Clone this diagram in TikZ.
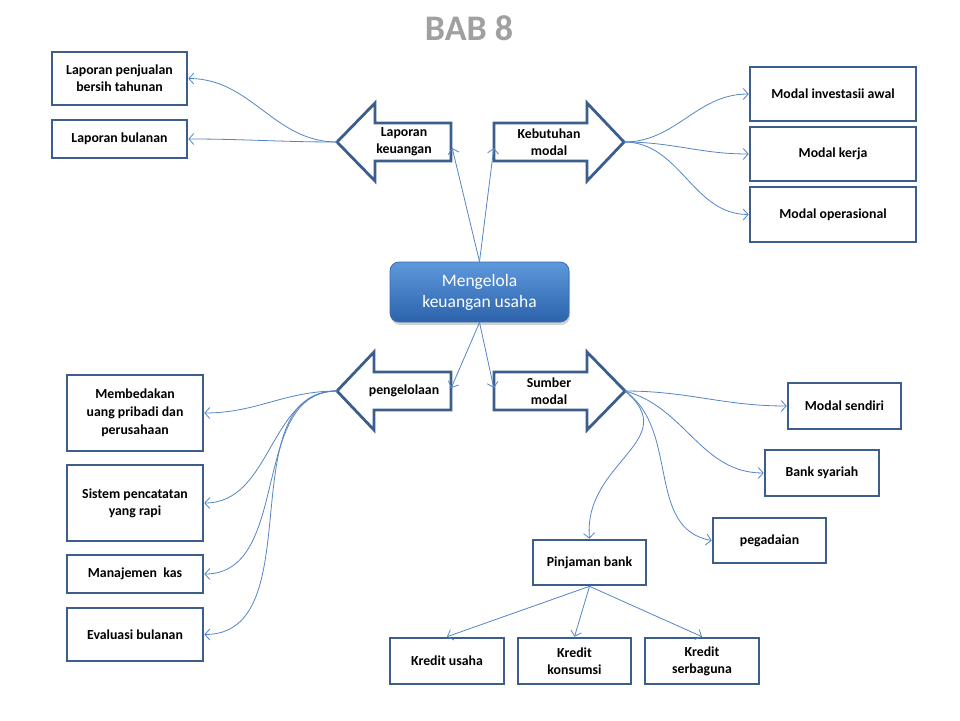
\documentclass[tikz,border=0pt]{standalone}
\usepackage{fontspec}
\setmainfont{Carlito}
\usetikzlibrary{arrows.meta,shadows,calc}
\definecolor{boxline}{HTML}{3B5E8C}
\definecolor{conn}{HTML}{5585C5}
\definecolor{ctrtop}{HTML}{5E98DC}
\definecolor{ctrbot}{HTML}{2C63AB}
\definecolor{ctrline}{HTML}{3A6DB0}
\definecolor{titlegray}{HTML}{A0A0A0}
\begin{document}
\begin{tikzpicture}[x=1pt,y=1pt,
  leaf/.style={draw=boxline,line width=2.6pt,fill=white,
    font=\bfseries\fontsize{13.8}{17}\selectfont,align=center,inner sep=0pt},
  arrowshape/.style={draw=boxline,line width=2.8pt,fill=white,line join=miter},
  arrowtext/.style={font=\bfseries\fontsize{13.8}{17}\selectfont,align=center,inner sep=0pt},
  ln/.style={draw=conn,line width=0.8pt,-{Straight Barb[length=5pt,width=11pt,line width=0.8pt]}}]
\useasboundingbox (0,0) rectangle (960,-720);
\fill[white] (0,0) rectangle (960,-720);

% title
\node[font=\bfseries\fontsize{36}{36}\selectfont,text=titlegray,inner sep=0pt] (title) at (469,-28) {BAB 8};

% block arrows
\draw[arrowshape] (451,-123) -- (375,-123) -- (375,-103) -- (337,-142) -- (375,-181) -- (375,-161) -- (451,-161) -- cycle;
\draw[arrowshape] (494,-123) -- (587,-123) -- (587,-103) -- (624,-142) -- (587,-181) -- (587,-161) -- (494,-161) -- cycle;
\draw[arrowshape] (451,-372) -- (374,-372) -- (374,-352) -- (337,-391) -- (374,-430) -- (374,-410) -- (451,-410) -- cycle;
\draw[arrowshape] (494,-372) -- (587,-372) -- (587,-352) -- (625,-391) -- (587,-430) -- (587,-410) -- (494,-410) -- cycle;

\node[arrowtext,minimum width=94pt,minimum height=38pt] (lk) at (404,-142) {Laporan\\keuangan};
\node[arrowtext,minimum width=110pt,minimum height=38pt] (km) at (549,-142) {Kebutuhan\\modal};
\node[arrowtext,minimum width=94pt,minimum height=38pt] (pe) at (404,-391) {pengelolaan};
\node[arrowtext,minimum width=110pt,minimum height=38pt] (sm) at (549,-391) {Sumber\\modal};

\coordinate (lkT) at (337,-142);
\coordinate (kmT) at (624,-142);
\coordinate (peT) at (337,-391);
\coordinate (smT) at (625,-391);

% centre
\node[draw=ctrline,line width=0.8pt,rounded corners=9pt,top color=ctrtop,bottom color=ctrbot,
  minimum width=179pt,minimum height=60pt,align=center,text=white,
  font=\fontsize{17.5}{21}\selectfont,
  drop shadow={opacity=0.35,shadow xshift=1pt,shadow yshift=-3pt}] (ctr) at (479.5,-292) {Mengelola\\keuangan usaha};

% leaves
\node[leaf,minimum width=135pt,minimum height=53pt] (lp) at (119.5,-78.5) {Laporan penjualan\\bersih tahunan};
\node[leaf,minimum width=135pt,minimum height=38pt] (lb) at (119.5,-139) {Laporan bulanan};
\node[leaf,minimum width=166pt,minimum height=54pt] (mi) at (833,-94) {Modal investasii awal};
\node[leaf,minimum width=166pt,minimum height=54pt] (mk) at (833,-154) {Modal kerja};
\node[leaf,minimum width=166pt,minimum height=55pt] (mo) at (833,-214.5) {Modal operasional};
\node[leaf,minimum width=136pt,minimum height=76pt,font=\bfseries\fontsize{13.8}{18}\selectfont] (mb) at (135,-413) {Membedakan\\uang pribadi dan\\perusahaan};
\node[leaf,minimum width=136pt,minimum height=76pt] (sp) at (135,-503) {Sistem pencatatan\\yang rapi};
\node[leaf,minimum width=136pt,minimum height=38pt] (mj) at (135,-574) {Manajemen~ kas};
\node[leaf,minimum width=136pt,minimum height=53pt] (eb) at (135,-634.5) {Evaluasi bulanan};
\node[leaf,minimum width=113pt,minimum height=46pt] (ms) at (844.5,-406) {Modal sendiri};
\node[leaf,minimum width=114pt,minimum height=46pt] (bs) at (822,-473) {Bank syariah};
\node[leaf,minimum width=113pt,minimum height=45pt] (pg) at (769.5,-540.5) {pegadaian};
\node[leaf,minimum width=113pt,minimum height=45pt] (pb) at (589.5,-562.5) {Pinjaman bank};
\node[leaf,minimum width=114pt,minimum height=46pt] (ku) at (447,-661) {Kredit usaha};
\node[leaf,minimum width=113pt,minimum height=46pt] (kk) at (574.5,-661) {Kredit\\konsumsi};
\node[leaf,minimum width=114pt,minimum height=46pt] (ks) at (702,-661) {Kredit\\serbaguna};

% connectors from centre
\draw[ln] (ctr.north) -- ($(lk.east)+(1,-6)$);
\draw[ln] (ctr.north) -- ($(km.west)+(0,-6)$);
\draw[ln] (ctr.south) -- ($(pe.east)+(0,3)$);
\draw[ln] (ctr.south) -- ($(sm.west)+(0,3)$);

% Laporan keuangan
\draw[ln] (lkT) to[out=180,in=0] (lp.east);
\draw[ln] (lkT) to[out=180,in=0] (lb.east);
% Kebutuhan modal
\draw[ln] (kmT) to[out=0,in=180] (mi.west);
\draw[ln] (kmT) to[out=0,in=180] (mk.west);
\draw[ln] (kmT) to[out=0,in=180] (mo.west);
% pengelolaan
\draw[ln] (peT) to[out=180,in=0] (mb.east);
\draw[ln] (peT) to[out=180,in=0] (sp.east);
\draw[ln] (peT) to[out=180,in=0] (mj.east);
\draw[ln] (peT) to[out=180,in=0] (eb.east);
% Sumber modal
\draw[ln] (smT) to[out=0,in=180] (ms.west);
\draw[ln] (smT) to[out=-15,in=180] (bs.west);
\draw[ln] (smT) to[out=-35,in=170] (pg.west);
\draw[ln] (smT) to[out=-40,in=95,looseness=1.3] (pb.north);
% Pinjaman bank
\draw[ln] (pb.south) -- (ku.north);
\draw[ln] (pb.south) -- (kk.north);
\draw[ln] (pb.south) -- (ks.north);
\end{tikzpicture}
\end{document}
